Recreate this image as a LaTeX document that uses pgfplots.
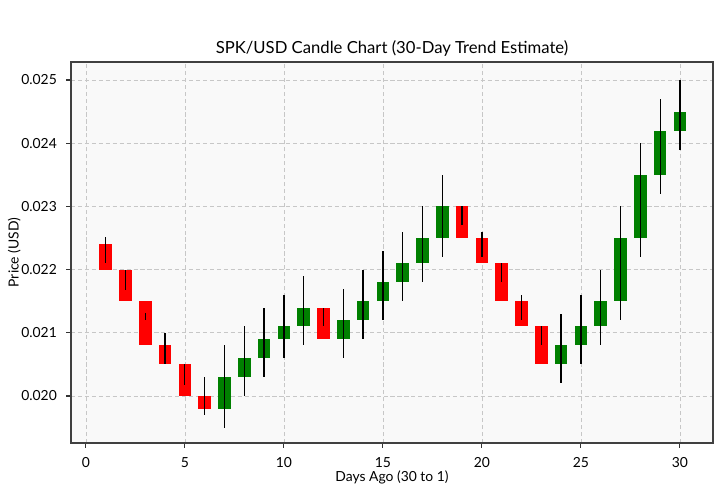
\documentclass[border=0pt]{standalone}
\usepackage{pgfplots}
\usepackage{pgfplotstable}
\pgfplotsset{compat=1.18}
\usepackage{fontspec}
\setmainfont{Lato}
\definecolor{bgc}{HTML}{F9F9F9}
\definecolor{bull}{HTML}{008000}
\definecolor{bear}{HTML}{FF0000}
\pgfplotstableread{
x o h l c
1 0.0224 0.02251 0.0221 0.0220
2 0.0220 0.0220 0.02168 0.0215
3 0.0215 0.02131 0.02121 0.0208
4 0.0208 0.0210 0.0205 0.0205
5 0.0205 0.0205 0.02017 0.0200
6 0.0200 0.0203 0.0197 0.0198
12 0.0214 0.0214 0.0211 0.0209
19 0.0230 0.0230 0.0227 0.0225
20 0.0225 0.0226 0.0222 0.0221
21 0.0221 0.0221 0.0218 0.0215
22 0.0215 0.0216 0.0212 0.0211
23 0.0211 0.0211 0.0208 0.0205
}\beartab
\pgfplotstableread{
x o h l c
7 0.0198 0.0208 0.0195 0.0203
8 0.0203 0.0211 0.0200 0.0206
9 0.0206 0.0214 0.0203 0.0209
10 0.0209 0.0216 0.0206 0.0211
11 0.0211 0.0219 0.0208 0.0214
13 0.0209 0.0217 0.0206 0.0212
14 0.0212 0.0220 0.0209 0.0215
15 0.0215 0.0223 0.0212 0.0218
16 0.0218 0.0226 0.0215 0.0221
17 0.0221 0.0230 0.0218 0.0225
18 0.0225 0.0235 0.0222 0.0230
24 0.0205 0.0213 0.0202 0.0208
25 0.0208 0.0216 0.0205 0.0211
26 0.0211 0.0220 0.0208 0.0215
27 0.0215 0.0230 0.0212 0.0225
28 0.0225 0.0240 0.0222 0.0235
29 0.0235 0.0247 0.0232 0.0242
30 0.0242 0.0250 0.0239 0.0245
}\bulltab
\begin{document}
\begin{tikzpicture}
\begin{axis}[
  name=ax,
  scale only axis,
  width=462.24pt, height=274.32pt,
  xmin=-0.75, xmax=31.67,
  ymin=0.019256, ymax=0.025285,
  xtick={0,5,10,15,20,25,30},
  ytick={0.020,0.021,0.022,0.023,0.024,0.025},
  scaled y ticks=false,
  /pgf/number format/assume math mode=true,
  xticklabel style={anchor=north, inner sep=0pt, yshift=-6.5pt, font=\fontsize{10}{12}\selectfont},
  yticklabel style={/pgf/number format/fixed, /pgf/number format/fixed zerofill, /pgf/number format/precision=3,
    anchor=east, inner sep=0pt, xshift=-6.5pt, font=\fontsize{10}{12}\selectfont},
  tick align=outside,
  xtick pos=left, ytick pos=left,
  major tick length=3.5pt,
  tick style={black!80, line width=0.8pt},
  axis line style={black!75, line width=0.8pt},
  axis background/.style={fill=bgc},
  grid=major,
  grid style={dashed, dash pattern=on 3pt off 2pt, black!22, line width=0.5pt},
  title={SPK/USD Candle Chart (30-Day Trend Estimate)},
  every axis title/.style={at={(0.5,1)}, anchor=base, yshift=6pt, inner sep=0pt, font=\fontsize{12}{14}\selectfont},
  xlabel={Days Ago (30 to 1)},
  every axis x label/.style={at={(rel axis cs:0.5,0)}, anchor=north, inner sep=0pt, yshift=-19.5pt, font=\fontsize{10}{12}\selectfont},
  ylabel={Price (USD)},
  every axis y label/.style={at={(rel axis cs:0,0.5)}, rotate=90, anchor=south, inner sep=0pt, yshift=36pt, font=\fontsize{10}{12}\selectfont},
]
% bodies
\addplot[mark=none, draw=none, forget plot,
  error bars/.cd, y dir=both, y explicit, error mark=none,
  error bar style={draw=bear, line width=9pt}]
  table[x=x, y expr={(\thisrow{o}+\thisrow{c})/2}, y error expr={abs(\thisrow{o}-\thisrow{c})/2}] {\beartab};
\addplot[mark=none, draw=none, forget plot,
  error bars/.cd, y dir=both, y explicit, error mark=none,
  error bar style={draw=bull, line width=9pt}]
  table[x=x, y expr={(\thisrow{o}+\thisrow{c})/2}, y error expr={abs(\thisrow{o}-\thisrow{c})/2}] {\bulltab};
% wicks
\addplot[mark=none, draw=none, forget plot,
  error bars/.cd, y dir=both, y explicit, error mark=none,
  error bar style={draw=black, line width=0.9pt}]
  table[x=x, y expr={(\thisrow{h}+\thisrow{l})/2}, y error expr={(\thisrow{h}-\thisrow{l})/2}] {\beartab};
\addplot[mark=none, draw=none, forget plot,
  error bars/.cd, y dir=both, y explicit, error mark=none,
  error bar style={draw=black, line width=0.9pt}]
  table[x=x, y expr={(\thisrow{h}+\thisrow{l})/2}, y error expr={(\thisrow{h}-\thisrow{l})/2}] {\bulltab};
\end{axis}
\path ([shift={(-51.12pt,-38.16pt)}]ax.south west) rectangle ([shift={(5.04pt,44.64pt)}]ax.north east);
\end{tikzpicture}
\end{document}
